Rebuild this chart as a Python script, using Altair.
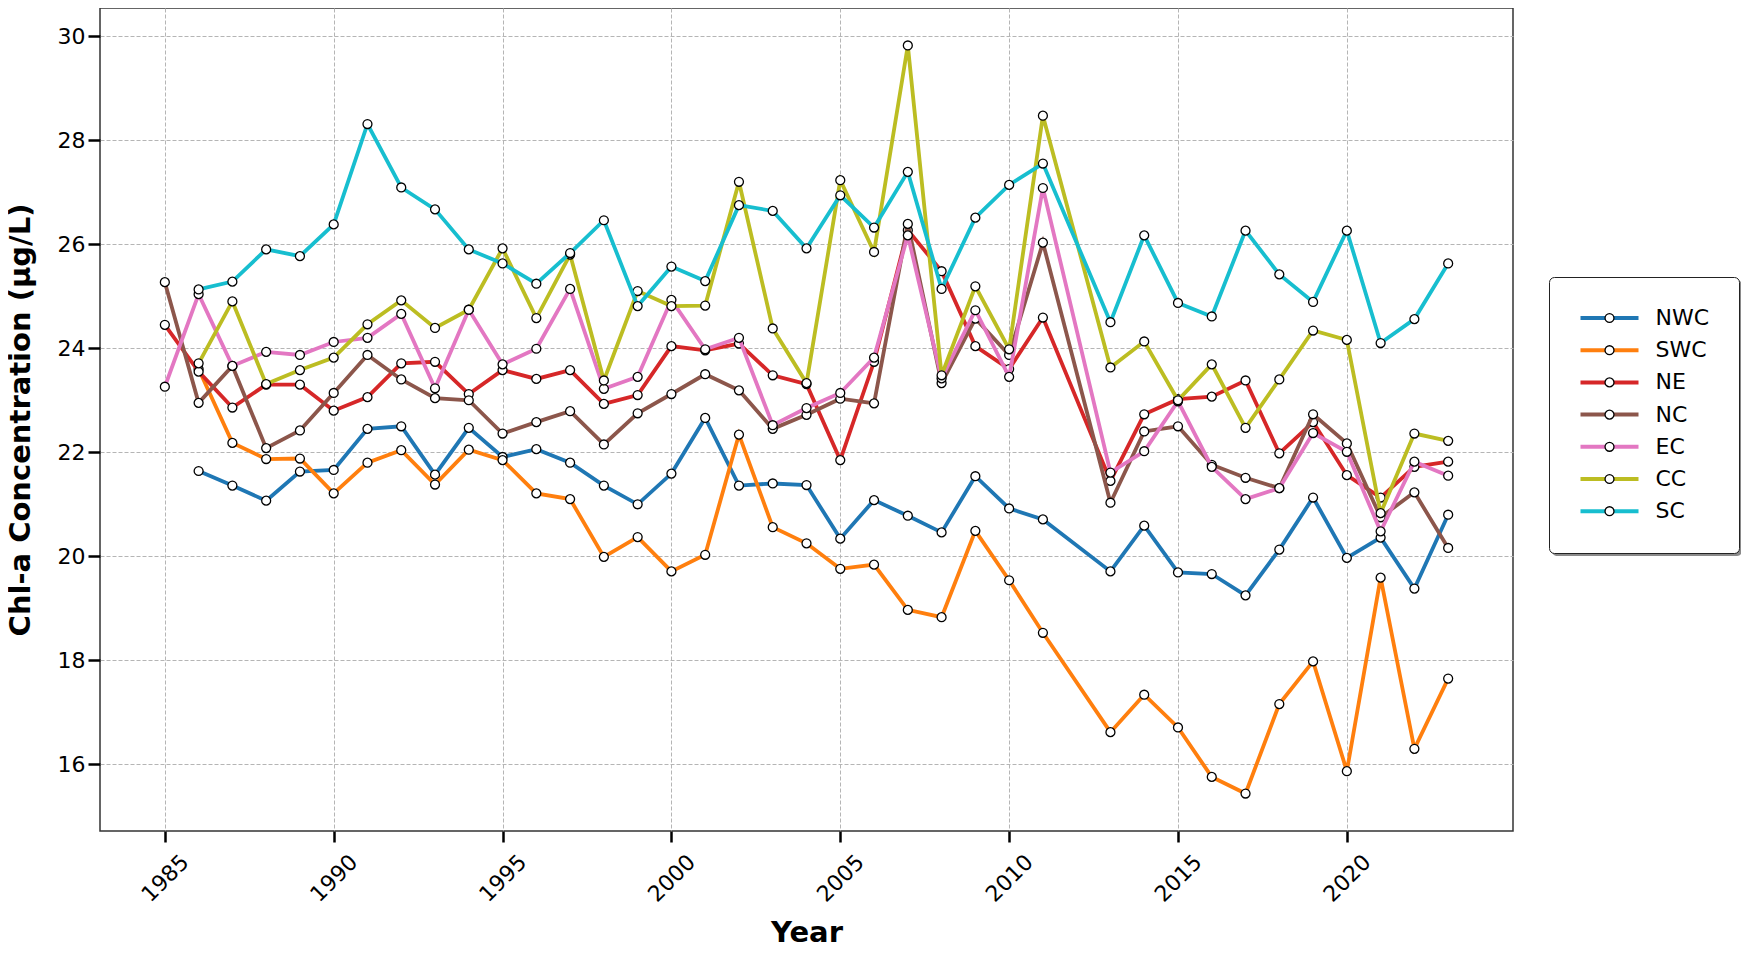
import altair as alt
import pandas as pd

YEARS = list(range(1985, 2012)) + list(range(2013, 2024))
REGIONS = ["NWC", "SWC", "NE", "NC", "EC", "CC", "SC"]
COLORS = ["#1f77b4", "#ff7f0e", "#d62728", "#8c564b", "#e377c2", "#bcbd22", "#17becf"]

NWC = [None, 21.64, 21.36, 21.07, 21.63, 21.66, 22.45, 22.50, 21.57, 22.47, 21.91, 22.06, 21.80, 21.36,
       21.00, 21.59, 22.66, 21.36, 21.40, 21.37, 20.34, 21.08, 20.78, 20.46, 21.54, 20.92, 20.71,
       19.71, 20.59, 19.69, 19.66, 19.25, 20.13, 21.13, 19.97, 20.36, 19.38, 20.80]
SWC = [None, 23.60, 22.18, 21.87, 21.88, 21.21, 21.80, 22.04, 21.38, 22.05, 21.85, 21.21, 21.10, 19.99,
       20.37, 19.71, 20.03, 22.34, 20.56, 20.25, 19.76, 19.84, 18.97, 18.83, 20.49, 19.54, 18.53,
       16.62, 17.34, 16.71, 15.76, 15.44, 17.16, 17.98, 15.87, 19.59, 16.30, 17.65]
NE = [24.45, 23.55, 22.86, 23.30, 23.30, 22.80, 23.06, 23.71, 23.74, 23.12, 23.58, 23.41, 23.58, 22.93,
      23.10, 24.04, 23.96, 24.09, 23.48, 23.31, 21.85, 23.74, 26.27, 25.48, 24.04, 23.60, 24.59,
      21.45, 22.73, 23.02, 23.07, 23.38, 21.98, 22.58, 21.56, 21.13, 21.72, 21.82]
NC = [25.27, 22.95, 23.66, 22.08, 22.42, 23.14, 23.87, 23.40, 23.04, 23.00, 22.36, 22.58, 22.79, 22.15,
      22.75, 23.12, 23.50, 23.19, 22.45, 22.72, 23.03, 22.94, 26.39, 23.33, 24.57, 23.87, 26.03,
      21.03, 22.40, 22.50, 21.76, 21.51, 21.31, 22.73, 22.17, 20.75, 21.23, 20.16]
EC = [23.26, 25.04, 23.66, 23.93, 23.87, 24.12, 24.20, 24.66, 23.23, 24.74, 23.69, 23.99, 25.14, 23.22,
      23.45, 24.93, 23.98, 24.20, 22.52, 22.85, 23.14, 23.82, 26.17, 23.42, 24.73, 23.45, 27.08,
      21.61, 22.02, 22.98, 21.72, 21.10, 21.31, 22.37, 22.01, 20.48, 21.82, 21.55]
CC = [None, 23.71, 24.90, 23.31, 23.58, 23.82, 24.46, 24.92, 24.39, 24.74, 25.92, 24.58, 25.80, 23.38,
      25.10, 24.81, 24.82, 27.20, 24.38, 23.33, 27.23, 25.85, 29.82, 23.48, 25.19, 23.98, 28.47,
      23.63, 24.13, 23.00, 23.69, 22.47, 23.40, 24.34, 24.16, 20.83, 22.36, 22.22]
SC = [None, 25.13, 25.28, 25.90, 25.77, 26.38, 28.31, 27.09, 26.67, 25.90, 25.63, 25.24, 25.83, 26.46,
      24.81, 25.57, 25.29, 26.75, 26.64, 25.92, 26.94, 26.32, 27.39, 25.14, 26.51, 27.14, 27.55,
      24.50, 26.17, 24.87, 24.61, 26.26, 25.42, 24.89, 26.26, 24.10, 24.56, 25.63]

X_TICKS = [1985, 1990, 1995, 2000, 2005, 2010, 2015, 2020]
Y_TICKS = [16, 18, 20, 22, 24, 26, 28, 30]

SERIES = {"NWC": NWC, "SWC": SWC, "NE": NE, "NC": NC, "EC": EC, "CC": CC, "SC": SC}
rows = []
for r in REGIONS:
    for yr, v in zip(YEARS, SERIES[r]):
        if v is not None:
            rows.append({"year": yr, "value": v, "region": r, "region_pt": r, "region_sh": r})
df = pd.DataFrame(rows)

FONT = "DejaVu Sans"
W, H = 1413, 823
LX, LY, LPAD, LROW = 1449, 269, 29.5, 9.2

x_enc = alt.X(
    "year:Q",
    scale=alt.Scale(domain=[1983.08, 2024.92], nice=False, zero=False),
    axis=alt.Axis(
        values=X_TICKS, format="d", title="Year",
        labelAngle=315, labelAlign="center", labelBaseline="middle",
        labelPadding=36, labelOverlap=False, labelFlush=False,
        labelFontSize=22, labelColor="black", labelFont=FONT,
        tickSize=11, tickWidth=2.5, tickColor="black",
        domain=False, grid=True, gridDash=[4, 2], gridColor="#b5b5b5", gridWidth=1,
        titleFontSize=29, titleFontWeight="bold", titleFont=FONT, titleColor="black",
        titleY=110, titleBaseline="alphabetic",
    ),
)
y_enc = alt.Y(
    "value:Q",
    scale=alt.Scale(domain=[14.72, 30.54], nice=False, zero=False),
    axis=alt.Axis(
        values=Y_TICKS, title="Chl-a Concentration (µg/L)",
        labelFontSize=22, labelColor="black", labelFont=FONT, labelPadding=3,
        tickSize=12, tickWidth=2.5, tickColor="black",
        domain=False, grid=True, gridDash=[4, 2], gridColor="#b5b5b5", gridWidth=1,
        titleFontSize=29, titleFontWeight="bold", titleFont=FONT, titleColor="black",
        titleAngle=270, titleX=-71, titleY=H / 2, titleAlign="center", titleBaseline="alphabetic",
    ),
)

shadow_legend = alt.Legend(
    title=None, orient="none", legendX=LX + 3, legendY=LY + 3, zindex=1,
    symbolType="stroke", symbolSize=3364, symbolStrokeWidth=4, clipHeight=23,
    symbolOpacity=0,
    labelFontSize=22, labelFont=FONT, labelOpacity=0, labelOffset=15,
    padding=LPAD, rowPadding=LROW, fillColor="#8a8a8a", cornerRadius=5,
)
color_legend = alt.Legend(
    title=None, orient="none", legendX=LX, legendY=LY, zindex=2,
    symbolType="stroke", symbolSize=3364, symbolStrokeWidth=4, clipHeight=23,
    labelFontSize=22, labelFont=FONT, labelColor="black", labelOffset=15,
    padding=LPAD, rowPadding=LROW, strokeColor="#222222", fillColor="white", cornerRadius=5,
)
marker_legend = alt.Legend(
    title=None, orient="none", legendX=LX, legendY=LY, zindex=3,
    symbolType="circle", symbolSize=80, symbolStrokeWidth=1.3,
    symbolFillColor="white", symbolOffset=20, clipHeight=23,
    labelFontSize=22, labelFont=FONT, labelOpacity=0, labelOffset=15,
    padding=LPAD, rowPadding=LROW,
)

base = alt.Chart(df)
layers = []
for r in REGIONS:
    sub = base.transform_filter(alt.datum.region == r)
    line = sub.mark_line(strokeWidth=3.8).encode(
        x=x_enc, y=y_enc,
        color=alt.Color("region:N", scale=alt.Scale(domain=REGIONS, range=COLORS), legend=color_legend),
    )
    pts = sub.mark_point(filled=True, fill="white", strokeWidth=1.3, size=80, opacity=1).encode(
        x=x_enc, y=y_enc,
        stroke=alt.Stroke("region_pt:N", scale=alt.Scale(range=["black"]), legend=marker_legend),
    )
    layers += [line, pts]

# invisible layer that only provides the legend's drop shadow box
shadow = base.mark_line(strokeOpacity=0, opacity=0).encode(
    x=x_enc, y=y_enc,
    strokeDash=alt.StrokeDash("region_sh:N", legend=shadow_legend),
)
layers.append(shadow)

chart = alt.layer(*layers).properties(
    width=W, height=H,
    padding={"left": 92, "top": 0, "right": 228, "bottom": 113},
    autosize=alt.AutoSizeParams(type="none"),
).configure(font=FONT).configure_view(stroke="#333333", strokeWidth=1.5)

chart.save("out.html", embed_options={"renderer": "svg", "actions": False})
